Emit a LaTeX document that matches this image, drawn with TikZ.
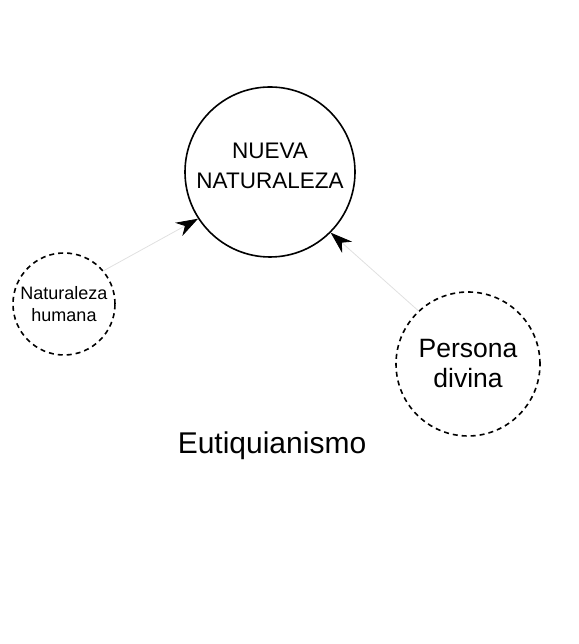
\documentclass[tikz,border=0pt]{standalone}
\usepackage{fontspec}
\setmainfont{Liberation Sans}
\usepackage{tikz}
\usetikzlibrary{arrows.meta}

\begin{document}
\begin{tikzpicture}[x=1pt, y=1pt,
	dashcircle/.style={circle, draw, dashed, line width=1.6pt, dash pattern=on 5pt off 4pt, inner sep=0pt},
	link/.style={draw=black!12, line width=0.8pt, -{Stealth[black, length=22pt, width=15pt, inset=7pt]}}]
	\useasboundingbox (0,0) rectangle (578,644);
	
	\node[circle, draw, line width=1.6pt, minimum size=170pt, align=center, text depth=12pt, font=\fontsize{22.5}{30}\selectfont] (nueva) at (270,472) {NUEVA\\NATURALEZA};
	\node[dashcircle, minimum size=102pt, align=center, font=\fontsize{18}{22}\selectfont] (humana) at (64,340) {Naturaleza\\humana};
	\node[dashcircle, minimum size=144pt, align=center, font=\fontsize{26.5}{30}\selectfont] (divina) at (468,280) {Persona\\divina};
	
	\draw[link] (humana.40) -- (nueva.213);
	\draw[link] (divina.133) -- (nueva.-45);
	
	\node[font=\fontsize{30}{36}\selectfont] (titulo) at (272,198) {Eutiquianismo};
\end{tikzpicture}
\end{document}
